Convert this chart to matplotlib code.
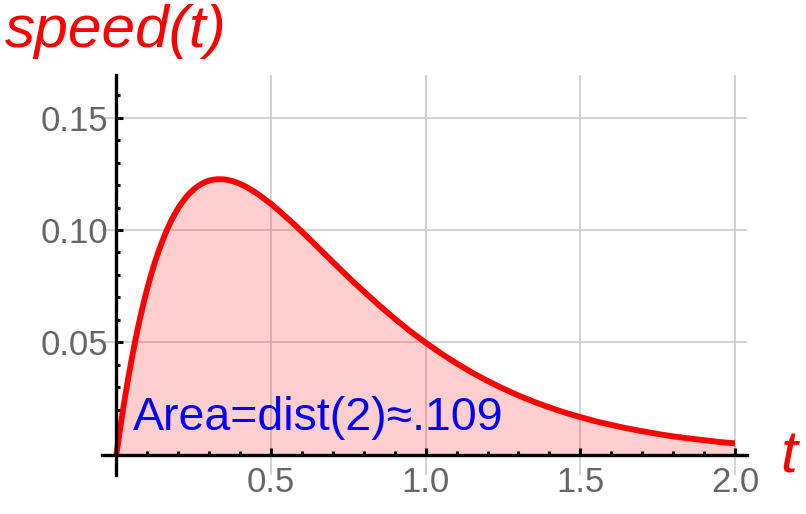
import numpy as np
import matplotlib
matplotlib.use("Agg")
import matplotlib.pyplot as plt
from matplotlib.ticker import FixedLocator

plt.rcParams['font.family'] = ['Liberation Sans', 'DejaVu Sans']

# speed values
t = [0, 0.005, 0.01, 0.0125, 0.0175, 0.02, 0.025, 0.0375, 0.05, 0.0625, 0.075,
     0.0875, 0.1, 0.1125, 0.125, 0.1375, 0.15, 0.1625, 0.175, 0.1875, 0.2,
     0.2125, 0.225, 0.2375, 0.25, 0.2625, 0.275, 0.2875, 0.3, 0.3125, 0.325,
     0.3375, 0.35, 0.3625, 0.375, 0.3875, 0.4, 0.4125, 0.425, 0.4375, 0.45,
     0.4625, 0.475, 0.4875, 0.5, 0.525, 0.55, 0.575, 0.6, 0.625, 0.65, 0.675,
     0.7, 0.725, 0.75, 0.8, 0.85, 0.9, 0.95, 1.0, 1.05, 1.1, 1.15, 1.2, 1.25,
     1.3, 1.35, 1.4, 1.45, 1.5, 1.55, 1.6, 1.65, 1.7, 1.75, 1.8, 1.85, 1.9,
     1.95, 2.0]
speed = [0, 0.0049, 0.0097, 0.0120, 0.0166, 0.0188, 0.0232, 0.0335, 0.0430,
         0.0518, 0.0599, 0.0673, 0.0741, 0.0803, 0.0859, 0.0910, 0.0956,
         0.0998, 0.1035, 0.1068, 0.1098, 0.1123, 0.1146, 0.1165, 0.1181,
         0.1194, 0.1205, 0.1214, 0.1220, 0.1224, 0.1226, 0.1226, 0.1225,
         0.1222, 0.1218, 0.1212, 0.1205, 0.1197, 0.1188, 0.1177, 0.1167,
         0.1155, 0.1142, 0.1129, 0.1116, 0.1087, 0.1056, 0.1025, 0.0992,
         0.0959, 0.0925, 0.0891, 0.0857, 0.0824, 0.0790, 0.0726, 0.0664,
         0.0605, 0.0549, 0.0498, 0.0450, 0.0406, 0.0365, 0.0328, 0.0294,
         0.0263, 0.0235, 0.0210, 0.0187, 0.0167, 0.0148, 0.0132, 0.0117,
         0.0104, 0.0092, 0.0081, 0.0072, 0.0064, 0.0056, 0.0050]

xticks = [0.5, 1.0, 1.5, 2.0]
xticklabels = ['0.5', '1.0', '1.5', '2.0']
yticks = [0.05, 0.10, 0.15]
yticklabels = ['0.05', '0.10', '0.15']

fig = plt.figure(figsize=(8.06, 5.14), dpi=100)
ax = fig.add_axes([0.1266, 0.0759, 0.9268 - 0.1266, 0.854 - 0.0759])
ax.set_xlim(-0.0465, 2.039)
ax.set_ylim(-0.0091, 0.169)

# grid
for x in xticks:
    ax.axvline(x, color='#c8c8c8', lw=1.1, zorder=0)
for y in yticks:
    ax.axhline(y, color='#c8c8c8', lw=1.1, zorder=0)

ax.fill_between(t, speed, 0, color='red', alpha=0.19, lw=0, zorder=1)
ax.plot(t, speed, color='red', lw=4.2, solid_capstyle='butt',
        solid_joinstyle='round', zorder=3)

# axes through origin
ax.spines['top'].set_visible(False)
ax.spines['right'].set_visible(False)
ax.spines['left'].set_position(('data', 0))
ax.spines['bottom'].set_position(('data', 0))
for s in ['left', 'bottom']:
    ax.spines[s].set_linewidth(2.4)
    ax.spines[s].set_zorder(4)

ax.xaxis.set_major_locator(FixedLocator(xticks))
ax.set_xticklabels(xticklabels)
ax.yaxis.set_major_locator(FixedLocator(yticks))
ax.set_yticklabels(yticklabels)
ax.xaxis.set_minor_locator(FixedLocator(np.arange(0.1, 2.01, 0.1)))
ax.yaxis.set_minor_locator(FixedLocator(np.arange(0.01, 0.1651, 0.01)))

ax.tick_params(which='major', direction='in', length=5, width=2.2,
               labelsize=25, labelcolor='#666666')
ax.tick_params(axis='y', which='major', pad=6)
ax.tick_params(axis='x', which='major', pad=8)
ax.tick_params(which='minor', direction='in', length=3, width=2.2)

ax.text(0.052, 0.0108, 'Area=dist(2)\u2248.109', color='blue', fontsize=33.5,
        ha='left', va='baseline', zorder=5)

fig.text(0.006, 0.9086, 'speed(t)', color='red', fontsize=43.5, style='italic',
         ha='left', va='baseline')
fig.text(0.968, 0.0798, 't', color='red', fontsize=43.5, style='italic',
         ha='left', va='baseline')

fig.savefig('out.png', dpi=100)
